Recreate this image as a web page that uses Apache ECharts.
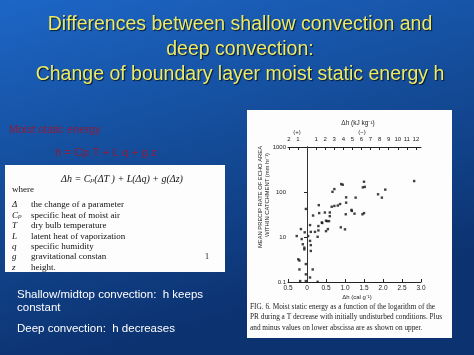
<!DOCTYPE html>
<html>
<head>
<meta charset="utf-8">
<script src="https://cdn.jsdelivr.net/npm/echarts@6/dist/echarts.min.js"></script>
<style>
  html, body { margin: 0; padding: 0; }
  #main { width: 474px; height: 355px; }
</style>
</head>
<body>
<div id="main"></div>
<script>
// values (lower abscissa, cal/g) and log ordinate (mm/hr)
const dhCalPerG = [-0.03, 0.31, 0.16, 0.32, 0.47, 0.60, 0.60, 0.39, 0.50, 0.65, 0.72, 0.81, 0.87, 0.67, 0.72, 0.90, 0.94,
  1.03, 1.03, 1.02, 1.28, 1.17, 1.18, 1.25, 1.47, 1.50, 1.52, 1.46, 1.50, 1.87, 1.97, 2.06, 2.82,
  0.40, 0.53, 0.58, 0.30, 0.08, 0.89, 1.00, -0.06, -0.27, 0.10, 0.21, -0.14, 0.28, -0.11, 0.10, 0.08, 0.10,
  -0.23, -0.20, -0.03, -0.20, 0.15, -0.03, 0.08, -0.18, 0.28, -0.03, -0.16, 0.03, 0.50, 0.55, 0.30, -0.07, -0.07];
const precipRate = [42, 51, 30, 34, 35, 35, 29, 21, 23, 47, 49, 50, 54, 101, 116, 150, 145,
  76, 58, 32, 75, 40, 38, 33, 127, 169, 130, 32, 34, 89, 75, 113, 175,
  20.5, 22.5, 22.5, 17.5, 18.4, 16.4, 14.8, 12.7, 10.5, 13, 13, 9, 10.1, 6.9, 6.6, 8.2, 4.9,
  3.2, 3.0, 2.5, 1.9, 1.9, 1.48, 1.26, 1.05, 1.01, 1.05, 15, 10.5, 13.5, 15, 14, 5.8, 5.3];

const kjTicks = [-2, -1, 1, 2, 3, 4, 5, 6, 7, 8, 9, 10, 11, 12];
const yTickLabels = { 1: '0.1', 10: '10', 100: '100', 1000: '1000' };

const titleLines = [
  'Differences between shallow convection and',
  'deep convection:',
  'Change of boundary layer moist static energy h'
];
const legendRows = [
  ['\u0394', 'the change of a parameter'],
  ['C\u209A', 'specific heat of moist air'],
  ['T', 'dry bulb temperature'],
  ['L', 'latent heat of vaporization'],
  ['q', 'specific humidity'],
  ['g', 'gravitational constan'],
  ['z', 'height.']
];
const captionLines = [
  'FIG. 6. Moist static energy as a function of the logarithm of the',
  'PR during a T decrease with initially undisturbed conditions. Plus',
  'and minus values on lower abscissa are as shown on upper.'
];

const CAL_TO_KJ = 4.1868;
var myChart = echarts.init(document.getElementById('main'));

const points = dhCalPerG.map((x, i) => [x, precipRate[i]]);

const serif = '"Liberation Serif", "DejaVu Serif", serif';
const sans = '"Liberation Sans", Arial, sans-serif';

const graphics = [];
// white boxes behind the text / figure
graphics.push({ type: 'rect', z: -10, shape: { x: 247, y: 110, width: 205, height: 228 }, style: { fill: '#fdfdfd' } });
graphics.push({ type: 'rect', z: -10, shape: { x: 5, y: 165, width: 220, height: 107 }, style: { fill: '#fdfdfd' } });

titleLines.forEach(function (t, i) {
  graphics.push({
    type: 'text', z: 100, x: 240, y: 25 + i * 25,
    style: {
      text: t, fill: '#ecea66', font: '19.5px ' + sans, align: 'center', verticalAlign: 'middle',
      textShadowColor: 'rgba(0,0,0,0.75)', textShadowOffsetX: 1, textShadowOffsetY: 1, textShadowBlur: 1
    }
  });
});

graphics.push({ type: 'text', z: 100, x: 9, y: 130, style: { text: 'Moist static energy', fill: '#8e1c3c', font: '11px ' + sans, verticalAlign: 'middle' } });
graphics.push({ type: 'text', z: 100, x: 55, y: 153, style: { text: 'h = Cp T + L q + g z', fill: '#8e1c3c', font: '11.5px ' + sans, verticalAlign: 'middle' } });

graphics.push({ type: 'text', z: 100, x: 122, y: 179, style: { text: '\u0394h = C\u209A(\u0394T ) + L(\u0394q) + g(\u0394z)', fill: '#111', font: 'italic 10px ' + serif, align: 'center', verticalAlign: 'middle' } });
graphics.push({ type: 'text', z: 100, x: 12, y: 190, style: { text: 'where', fill: '#111', font: '9px ' + serif, verticalAlign: 'middle' } });
legendRows.forEach(function (r, i) {
  const y = 205 + i * 10.4;
  graphics.push({ type: 'text', z: 100, x: 12, y: y, style: { text: r[0], fill: '#111', font: 'italic 9px ' + serif, verticalAlign: 'middle' } });
  graphics.push({ type: 'text', z: 100, x: 31, y: y, style: { text: r[1], fill: '#111', font: '9px ' + serif, verticalAlign: 'middle' } });
});
graphics.push({ type: 'text', z: 100, x: 205, y: 257, style: { text: '1', fill: '#111', font: '8px ' + serif, verticalAlign: 'middle' } });

graphics.push({ type: 'text', z: 100, x: 17, y: 295, style: { text: 'Shallow/midtop convection:  h keeps', fill: '#fff', font: '11.5px ' + sans, verticalAlign: 'middle' } });
graphics.push({ type: 'text', z: 100, x: 17, y: 308, style: { text: 'constant', fill: '#fff', font: '11.5px ' + sans, verticalAlign: 'middle' } });
graphics.push({ type: 'text', z: 100, x: 17, y: 329, style: { text: 'Deep convection:  h decreases', fill: '#fff', font: '11.5px ' + sans, verticalAlign: 'middle' } });

// figure annotations
graphics.push({ type: 'text', z: 100, x: 358, y: 123, style: { text: '\u0394h (kJ kg\u207B\u00B9)', fill: '#222', font: '6.5px ' + sans, align: 'center', verticalAlign: 'middle' } });
graphics.push({ type: 'text', z: 100, x: 297, y: 132, style: { text: '(+)', fill: '#222', font: '6px ' + sans, align: 'center', verticalAlign: 'middle' } });
graphics.push({ type: 'text', z: 100, x: 362, y: 132, style: { text: '(\u2212)', fill: '#222', font: '6px ' + sans, align: 'center', verticalAlign: 'middle' } });
graphics.push({ type: 'text', z: 100, x: 357, y: 297, style: { text: '\u0394h (cal g\u207B\u00B9)', fill: '#222', font: '6px ' + sans, align: 'center', verticalAlign: 'middle' } });
graphics.push({ type: 'text', z: 100, x: 260, y: 197, rotation: Math.PI / 2, style: { text: 'MEAN PRECIP RATE OF ECHO AREA', fill: '#222', font: '5.8px ' + sans, align: 'center', verticalAlign: 'middle' } });
graphics.push({ type: 'text', z: 100, x: 267, y: 195, rotation: Math.PI / 2, style: { text: 'WITHIN CATCHMENT (mm hr\u207B\u00B9)', fill: '#222', font: '5.8px ' + sans, align: 'center', verticalAlign: 'middle' } });
captionLines.forEach(function (t, i) {
  graphics.push({ type: 'text', z: 100, x: 250, y: 307 + i * 10.5, style: { text: t, fill: '#222', font: '7.3px ' + serif, verticalAlign: 'middle' } });
});

var option = {
  backgroundColor: {
    type: 'linear', x: 0, y: 0, x2: 0.2, y2: 1,
    colorStops: [
      { offset: 0, color: '#1d66c6' },
      { offset: 0.45, color: '#154f9e' },
      { offset: 1, color: '#0c3270' }
    ]
  },
  animation: false,
  graphic: graphics,
  grid: { left: 288, right: 53, top: 147, bottom: 73, show: false },
  xAxis: [{
    type: 'value', position: 'bottom', min: -0.5, max: 3.0, interval: 0.5,
    axisLine: { lineStyle: { color: '#222', width: 1 } },
    axisTick: { inside: true, length: 3, lineStyle: { color: '#222' } },
    axisLabel: {
      color: '#222', fontSize: 6.5, fontFamily: sans, margin: 3,
      formatter: function (v) { return v === 0 ? '0' : Math.abs(v).toFixed(1); }
    },
    splitLine: { show: false }
  }, {
    type: 'value', position: 'top', min: -0.5 * CAL_TO_KJ, max: 3.0 * CAL_TO_KJ,
    axisLine: { lineStyle: { color: '#222', width: 1 } },
    axisTick: { inside: true, length: 3, customValues: kjTicks, lineStyle: { color: '#222' } },
    axisLabel: {
      color: '#222', fontSize: 6, fontFamily: sans, margin: 5, customValues: kjTicks,
      formatter: function (v) { return String(Math.abs(v)); }
    },
    splitLine: { show: false }
  }],
  yAxis: [{
    type: 'log', logBase: 10, min: 1, max: 1000, position: 'left',
    axisLine: { show: true, lineStyle: { color: '#222', width: 1 } },
    axisTick: { show: true, inside: false, length: 3, lineStyle: { color: '#222' } },
    minorTick: { show: false },
    axisLabel: {
      color: '#222', fontSize: 6, fontFamily: sans, margin: 2,
      formatter: function (v) { return yTickLabels[Math.round(v)] || ''; }
    },
    splitLine: { show: false }
  }, {
    type: 'log', logBase: 10, min: 1, max: 1000, position: 'right',
    axisLine: { show: true, lineStyle: { color: '#222', width: 1 } },
    axisTick: { show: true, inside: true, length: 3, lineStyle: { color: '#222' } },
    axisLabel: { show: false },
    splitLine: { show: false }
  }],
  series: [{
    type: 'scatter',
    xAxisIndex: 0,
    yAxisIndex: 0,
    data: points,
    symbol: 'rect',
    symbolSize: 2.4,
    itemStyle: { color: '#111' },
    markLine: {
      silent: true,
      symbol: 'none',
      label: { show: false },
      lineStyle: { color: '#333', width: 1, type: 'solid' },
      data: [{ xAxis: 0 }]
    }
  }]
};

option && myChart.setOption(option);
</script>
</body>
</html>
